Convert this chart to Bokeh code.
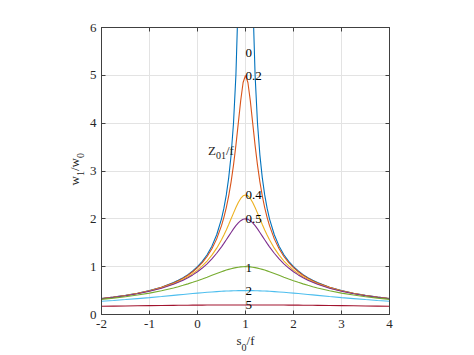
from bokeh.plotting import figure
from bokeh.models import LinearAxis, Range1d, FixedTicker, Label
from bokeh.core.properties import value
from bokeh.embed import file_html
from bokeh.resources import INLINE

NaN = float("nan")

# s0/f sample positions
s = [-2, -1.75, -1.5, -1.25, -1, -0.75, -0.5,
     -0.4, -0.3, -0.2, -0.1, 0, 0.1, 0.2, 0.3, 0.4, 0.5,
     0.55, 0.6, 0.65, 0.7, 0.75, 0.8, 0.85, 0.9, 0.95, 1.0,
     1.05, 1.1, 1.15, 1.2, 1.25, 1.3, 1.35, 1.4, 1.45,
     1.5, 1.6, 1.7, 1.8, 1.9, 2.0, 2.1, 2.2, 2.3, 2.4,
     2.5, 2.75, 3, 3.25, 3.5, 3.75, 4]

# w1/w0 for each value of Z01/f
w_z0 = [0.333, 0.364, 0.4, 0.444, 0.5, 0.571, 0.667,
        0.714, 0.769, 0.833, 0.909, 1.0, 1.111, 1.25, 1.429, 1.667, 2.0,
        2.222, 2.5, 2.857, 3.333, 4.0, 5.0, 6.667, 10.0, 20.0, NaN,
        20.0, 10.0, 6.667, 5.0, 4.0, 3.333, 2.857, 2.5, 2.222,
        2.0, 1.667, 1.429, 1.25, 1.111, 1.0, 0.909, 0.833, 0.769, 0.714,
        0.667, 0.571, 0.5, 0.444, 0.4, 0.364, 0.333]
w_z02 = [0.3326, 0.3627, 0.3987, 0.4427, 0.4975, 0.5677, 0.6608,
         0.7071, 0.7603, 0.822, 0.8944, 0.9806, 1.0847, 1.2127, 1.3736, 1.5811, 1.857,
         2.0307, 2.2361, 2.4807, 2.7735, 3.1235, 3.5355, 4.0, 4.4721, 4.8507, 5.0,
         4.8507, 4.4721, 4.0, 3.5355, 3.1235, 2.7735, 2.4807, 2.2361, 2.0307,
         1.857, 1.5811, 1.3736, 1.2127, 1.0847, 0.9806, 0.8944, 0.822, 0.7603, 0.7071,
         0.6608, 0.5677, 0.4975, 0.4427, 0.3987, 0.3627, 0.3326]
w_z04 = [0.3304, 0.3598, 0.395, 0.4376, 0.4903, 0.5571, 0.6442,
         0.6868, 0.7352, 0.7906, 0.8544, 0.9285, 1.0153, 1.118, 1.2403, 1.3868, 1.5617,
         1.6609, 1.7678, 1.8814, 2.0, 2.12, 2.2361, 2.3408, 2.4254, 2.4807, 2.5,
         2.4807, 2.4254, 2.3408, 2.2361, 2.12, 2.0, 1.8814, 1.7678, 1.6609,
         1.5617, 1.3868, 1.2403, 1.118, 1.0153, 0.9285, 0.8544, 0.7906, 0.7352, 0.6868,
         0.6442, 0.5571, 0.4903, 0.4376, 0.395, 0.3598, 0.3304]
w_z05 = [0.3288, 0.3578, 0.3922, 0.4339, 0.4851, 0.5494, 0.6325,
         0.6727, 0.718, 0.7692, 0.8276, 0.8944, 0.9713, 1.06, 1.1625, 1.2804, 1.4142,
         1.4866, 1.5617, 1.6385, 1.715, 1.7889, 1.857, 1.9157, 1.9612, 1.9901, 2.0,
         1.9901, 1.9612, 1.9157, 1.857, 1.7889, 1.715, 1.6385, 1.5617, 1.4866,
         1.4142, 1.2804, 1.1625, 1.06, 0.9713, 0.8944, 0.8276, 0.7692, 0.718, 0.6727,
         0.6325, 0.5494, 0.4851, 0.4339, 0.3922, 0.3578, 0.3288]
w_z1 = [0.3162, 0.3417, 0.3714, 0.4061, 0.4472, 0.4961, 0.5547,
        0.5812, 0.6097, 0.6402, 0.6727, 0.7071, 0.7433, 0.7809, 0.8192, 0.8575, 0.8944,
        0.9119, 0.9285, 0.9439, 0.9578, 0.9701, 0.9806, 0.9889, 0.995, 0.9988, 1.0,
        0.9988, 0.995, 0.9889, 0.9806, 0.9701, 0.9578, 0.9439, 0.9285, 0.9119,
        0.8944, 0.8575, 0.8192, 0.7809, 0.7433, 0.7071, 0.6727, 0.6402, 0.6097, 0.5812,
        0.5547, 0.4961, 0.4472, 0.4061, 0.3714, 0.3417, 0.3162]
w_z2 = [0.2774, 0.2941, 0.3123, 0.3322, 0.3536, 0.3763, 0.4,
        0.4096, 0.4192, 0.4287, 0.4381, 0.4472, 0.456, 0.4642, 0.4719, 0.4789, 0.4851,
        0.4878, 0.4903, 0.4925, 0.4945, 0.4961, 0.4975, 0.4986, 0.4994, 0.4998, 0.5,
        0.4998, 0.4994, 0.4986, 0.4975, 0.4961, 0.4945, 0.4925, 0.4903, 0.4878,
        0.4851, 0.4789, 0.4719, 0.4642, 0.456, 0.4472, 0.4381, 0.4287, 0.4192, 0.4096,
        0.4, 0.3763, 0.3536, 0.3322, 0.3123, 0.2941, 0.2774]
w_z5 = [0.1715, 0.1752, 0.1789, 0.1824, 0.1857, 0.1888, 0.1916,
        0.1926, 0.1936, 0.1945, 0.1953, 0.1961, 0.1968, 0.1975, 0.1981, 0.1986, 0.199,
        0.1992, 0.1994, 0.1995, 0.1996, 0.1998, 0.1998, 0.1999, 0.2, 0.2, 0.2,
        0.2, 0.2, 0.1999, 0.1998, 0.1998, 0.1996, 0.1995, 0.1994, 0.1992,
        0.199, 0.1986, 0.1981, 0.1975, 0.1968, 0.1961, 0.1953, 0.1945, 0.1936, 0.1926,
        0.1916, 0.1888, 0.1857, 0.1824, 0.1789, 0.1752, 0.1715]

series = [w_z0, w_z02, w_z04, w_z05, w_z1, w_z2, w_z5]
colors = ["#0072BD", "#D95319", "#EDB120", "#7E2F8E", "#77AC30", "#4DBEEE", "#A2142F"]

# curve labels (value of Z01/f)
label_text = ["0", "0.2", "0.4", "0.5", "1", "2", "5"]
label_x = [1.0, 1.0, 1.0, 1.0, 1.0, 1.0, 1.0]
label_y = [5.46, 4.98, 2.5, 1.99, 0.98, 0.5, 0.19]

x_ticks = [-2, -1, 0, 1, 2, 3, 4]
x_tick_labels = ["-2", "-1", "0", "1", "2", "3", "4"]
y_ticks = [0, 1, 2, 3, 4, 5, 6]

FONT = "Liberation Serif"
AX = "#404040"
TXT = "#262626"
W, H = 474, 355
BL, BR, BT, BB = 101, 85, 27, 41
X0, X1, Y0, Y1 = -2, 4, 0, 6

p = figure(width=W, height=H, output_backend="svg", toolbar_location=None,
           x_range=Range1d(X0, X1), y_range=Range1d(Y0, Y1),
           min_border_left=BL, min_border_right=BR, min_border_top=BT, min_border_bottom=BB)
p.background_fill_color = "white"
p.border_fill_color = "white"
p.outline_line_color = AX
p.outline_line_width = 1

for ys, c in zip(series, colors):
    p.line(s, ys, line_color=c, line_width=1.1)

p.text(x=label_x, y=label_y, text=label_text, text_font=value(FONT),
       text_font_size="13px", text_align="left", text_baseline="middle", text_color="#000000")

for ax, ticks in ((p.xaxis[0], x_ticks), (p.yaxis[0], y_ticks)):
    ax.ticker = FixedTicker(ticks=ticks)
    ax.major_tick_in = 4
    ax.major_tick_out = 0
    ax.minor_tick_in = 0
    ax.minor_tick_out = 0
    ax.axis_line_color = AX
    ax.major_tick_line_color = AX
    ax.major_label_text_font = FONT
    ax.major_label_text_font_size = "13px"
    ax.major_label_text_color = TXT
    ax.major_label_standoff = 5
p.xaxis[0].major_label_overrides = dict(zip(x_ticks, x_tick_labels))

for loc, ticks in (("above", x_ticks), ("right", y_ticks)):
    a = LinearAxis(ticker=FixedTicker(ticks=ticks))
    a.major_tick_in = 4
    a.major_tick_out = 0
    a.minor_tick_in = 0
    a.minor_tick_out = 0
    a.axis_line_color = AX
    a.major_tick_line_color = AX
    a.major_label_text_font_size = "0px"
    a.major_label_text_alpha = 0
    a.major_label_standoff = 0
    p.add_layout(a, loc)

p.xgrid.ticker = FixedTicker(ticks=x_ticks)
p.ygrid.ticker = FixedTicker(ticks=y_ticks)
p.grid.grid_line_color = "#e3e3e3"
p.grid.grid_line_width = 1

# ---- text with subscripts -------------------------------------------------
FW = W - BL - BR
FH = H - BT - BB
def dx(px):
    return round(X0 + (px - BL) * (X1 - X0) / FW, 4)
def dy(py):
    return round(Y0 + (H - BB - py) * (Y1 - Y0) / FH, 4)

M, SUB = 13, 10          # main and subscript font sizes (px)
EM = {"w": 0.722, "s": 0.389, "Z": 0.611, "/": 0.278, "f": 0.333, "d": 0.5}

def text_axis(loc, pieces, size, standoff, orientation="horizontal"):
    # an axis without line or ticks, used only to place pieces of an axis title
    a = LinearAxis(ticker=FixedTicker(ticks=[c for c, _ in pieces]),
                   major_label_overrides={c: t for c, t in pieces})
    a.axis_line_color = None
    a.major_tick_line_color = None
    a.minor_tick_line_color = None
    a.major_tick_in = 0
    a.major_tick_out = 0
    a.minor_tick_in = 0
    a.minor_tick_out = 0
    a.major_label_standoff = standoff
    a.major_label_orientation = orientation
    a.major_label_text_font = FONT
    a.major_label_text_font_size = f"{size}px"
    a.major_label_text_color = TXT
    p.add_layout(a, loc)

# x axis title: s_0/f  (starts at page x=236)
x0 = 236.0
w_s, w_d, w_sf = EM["s"] * M, EM["d"] * SUB, (EM["/"] + EM["f"]) * M
text_axis("below", [(dx(x0 + w_s / 2), "s"), (dx(x0 + w_s + w_d + w_sf / 2), "/f")], M, 2)
text_axis("below", [(dx(x0 + w_s + w_d / 2), "0")], SUB, -7)

# y axis title: w_1/w_0  (starts at page y=185, reading upward)
y0 = 185.0
w_w, w_sw = EM["w"] * M, (EM["/"] + EM["w"]) * M
text_axis("left", [(dy(y0 - w_w - w_d / 2), "1"),
                   (dy(y0 - w_w - w_d - w_sw - w_d / 2), "0")], SUB, 2, "parallel")
text_axis("left", [(dy(y0 - w_w / 2), "w"),
                   (dy(y0 - w_w - w_d - w_sw / 2), "/w")], M, -8, "parallel")

# curve family label inside the frame: Z_01/f
def add(text, px, py, size):
    p.add_layout(Label(x=dx(px), y=dy(py), text=text,
                       text_font=FONT, text_font_size=f"{size}px", text_color=TXT,
                       text_align="left", text_baseline="alphabetic"))

zx, zb = 207.5, 150
add("Z", zx, zb, M); zx += EM["Z"] * M
add("01", zx, zb + 5, SUB); zx += 2 * EM["d"] * SUB
add("/f", zx, zb, M)

open("out.html", "w").write(file_html(p, INLINE))
